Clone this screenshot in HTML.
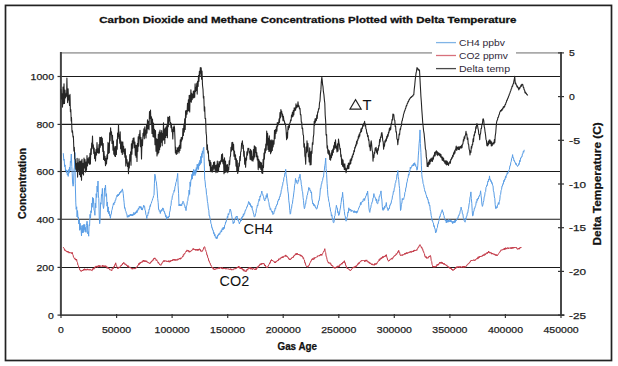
<!DOCTYPE html><html><head><meta charset="utf-8"><style>html,body{margin:0;padding:0;background:#fff;}</style></head><body><svg width="618" height="366" viewBox="0 0 618 366" style="display:block"><rect x="0" y="0" width="618" height="366" fill="#fff"/><rect x="5.5" y="5.4" width="606" height="355.1" fill="none" stroke="#222" stroke-width="1.7"/><text x="99.3" y="23.4" font-family="Liberation Sans, sans-serif" font-weight="bold" font-size="9.5" textLength="417" lengthAdjust="spacingAndGlyphs" fill="#111" stroke="#111" stroke-width="0.3">Carbon Dioxide and Methane Concentrations Plotted with Delta Temperature</text><line x1="61" y1="52.9" x2="561" y2="52.9" stroke="#aaa" stroke-width="1.9"/><line x1="61" y1="267.45" x2="561" y2="267.45" stroke="#1a1a1a" stroke-width="1.1"/><line x1="61" y1="219.20" x2="561" y2="219.20" stroke="#1a1a1a" stroke-width="1.1"/><line x1="61" y1="171.50" x2="561" y2="171.50" stroke="#1a1a1a" stroke-width="1.1"/><line x1="61" y1="124.40" x2="561" y2="124.40" stroke="#1a1a1a" stroke-width="1.1"/><line x1="61" y1="76.50" x2="561" y2="76.50" stroke="#1a1a1a" stroke-width="1.1"/><line x1="60.9" y1="52" x2="60.9" y2="316" stroke="#444" stroke-width="2"/><line x1="561" y1="52" x2="561" y2="316" stroke="#484848" stroke-width="2"/><line x1="59.9" y1="315.1" x2="564.5" y2="315.1" stroke="#4a4a4a" stroke-width="1.9"/><line x1="57.5" y1="315.1" x2="61" y2="315.1" stroke="#333" stroke-width="1.2"/><text x="48.1" y="318.6" font-family="Liberation Sans, sans-serif" font-size="9.8" textLength="5.8" lengthAdjust="spacingAndGlyphs" fill="#222" stroke="#222" stroke-width="0.25">0</text><line x1="57.5" y1="267.4" x2="61" y2="267.4" stroke="#333" stroke-width="1.2"/><text x="36.5" y="270.9" font-family="Liberation Sans, sans-serif" font-size="9.8" textLength="17.5" lengthAdjust="spacingAndGlyphs" fill="#222" stroke="#222" stroke-width="0.25">200</text><line x1="57.5" y1="219.2" x2="61" y2="219.2" stroke="#333" stroke-width="1.2"/><text x="36.5" y="222.7" font-family="Liberation Sans, sans-serif" font-size="9.8" textLength="17.5" lengthAdjust="spacingAndGlyphs" fill="#222" stroke="#222" stroke-width="0.25">400</text><line x1="57.5" y1="171.5" x2="61" y2="171.5" stroke="#333" stroke-width="1.2"/><text x="36.5" y="175.0" font-family="Liberation Sans, sans-serif" font-size="9.8" textLength="17.5" lengthAdjust="spacingAndGlyphs" fill="#222" stroke="#222" stroke-width="0.25">600</text><line x1="57.5" y1="124.4" x2="61" y2="124.4" stroke="#333" stroke-width="1.2"/><text x="36.5" y="127.9" font-family="Liberation Sans, sans-serif" font-size="9.8" textLength="17.5" lengthAdjust="spacingAndGlyphs" fill="#222" stroke="#222" stroke-width="0.25">800</text><line x1="57.5" y1="76.5" x2="61" y2="76.5" stroke="#333" stroke-width="1.2"/><text x="30.6" y="80.0" font-family="Liberation Sans, sans-serif" font-size="9.8" textLength="23.4" lengthAdjust="spacingAndGlyphs" fill="#222" stroke="#222" stroke-width="0.25">1000</text><line x1="558" y1="52.9" x2="564" y2="52.9" stroke="#333" stroke-width="1.2"/><text x="569" y="56.4" font-family="Liberation Sans, sans-serif" font-size="9.8" textLength="5.8" lengthAdjust="spacingAndGlyphs" fill="#222" stroke="#222" stroke-width="0.25">5</text><line x1="558" y1="96.6" x2="564" y2="96.6" stroke="#333" stroke-width="1.2"/><text x="569" y="100.1" font-family="Liberation Sans, sans-serif" font-size="9.8" textLength="5.8" lengthAdjust="spacingAndGlyphs" fill="#222" stroke="#222" stroke-width="0.25">0</text><line x1="558" y1="140.3" x2="564" y2="140.3" stroke="#333" stroke-width="1.2"/><text x="569" y="143.8" font-family="Liberation Sans, sans-serif" font-size="9.8" textLength="11.1" lengthAdjust="spacingAndGlyphs" fill="#222" stroke="#222" stroke-width="0.25">-5</text><line x1="558" y1="184.0" x2="564" y2="184.0" stroke="#333" stroke-width="1.2"/><text x="569" y="187.5" font-family="Liberation Sans, sans-serif" font-size="9.8" textLength="17.0" lengthAdjust="spacingAndGlyphs" fill="#222" stroke="#222" stroke-width="0.25">-10</text><line x1="558" y1="227.7" x2="564" y2="227.7" stroke="#333" stroke-width="1.2"/><text x="569" y="231.2" font-family="Liberation Sans, sans-serif" font-size="9.8" textLength="17.0" lengthAdjust="spacingAndGlyphs" fill="#222" stroke="#222" stroke-width="0.25">-15</text><line x1="558" y1="271.4" x2="564" y2="271.4" stroke="#333" stroke-width="1.2"/><text x="569" y="274.9" font-family="Liberation Sans, sans-serif" font-size="9.8" textLength="17.0" lengthAdjust="spacingAndGlyphs" fill="#222" stroke="#222" stroke-width="0.25">-20</text><line x1="558" y1="315.1" x2="564" y2="315.1" stroke="#333" stroke-width="1.2"/><text x="569" y="318.6" font-family="Liberation Sans, sans-serif" font-size="9.8" textLength="17.0" lengthAdjust="spacingAndGlyphs" fill="#222" stroke="#222" stroke-width="0.25">-25</text><line x1="61.0" y1="314" x2="61.0" y2="318" stroke="#333" stroke-width="1.2"/><text x="58.1" y="333.4" font-family="Liberation Sans, sans-serif" font-size="9.8" textLength="5.8" lengthAdjust="spacingAndGlyphs" fill="#222" stroke="#222" stroke-width="0.25">0</text><line x1="116.6" y1="314" x2="116.6" y2="318" stroke="#333" stroke-width="1.2"/><text x="101.9" y="333.4" font-family="Liberation Sans, sans-serif" font-size="9.8" textLength="29.2" lengthAdjust="spacingAndGlyphs" fill="#222" stroke="#222" stroke-width="0.25">50000</text><line x1="172.1" y1="314" x2="172.1" y2="318" stroke="#333" stroke-width="1.2"/><text x="154.6" y="333.4" font-family="Liberation Sans, sans-serif" font-size="9.8" textLength="35.1" lengthAdjust="spacingAndGlyphs" fill="#222" stroke="#222" stroke-width="0.25">100000</text><line x1="227.7" y1="314" x2="227.7" y2="318" stroke="#333" stroke-width="1.2"/><text x="210.1" y="333.4" font-family="Liberation Sans, sans-serif" font-size="9.8" textLength="35.1" lengthAdjust="spacingAndGlyphs" fill="#222" stroke="#222" stroke-width="0.25">150000</text><line x1="283.2" y1="314" x2="283.2" y2="318" stroke="#333" stroke-width="1.2"/><text x="265.7" y="333.4" font-family="Liberation Sans, sans-serif" font-size="9.8" textLength="35.1" lengthAdjust="spacingAndGlyphs" fill="#222" stroke="#222" stroke-width="0.25">200000</text><line x1="338.8" y1="314" x2="338.8" y2="318" stroke="#333" stroke-width="1.2"/><text x="321.2" y="333.4" font-family="Liberation Sans, sans-serif" font-size="9.8" textLength="35.1" lengthAdjust="spacingAndGlyphs" fill="#222" stroke="#222" stroke-width="0.25">250000</text><line x1="394.3" y1="314" x2="394.3" y2="318" stroke="#333" stroke-width="1.2"/><text x="376.8" y="333.4" font-family="Liberation Sans, sans-serif" font-size="9.8" textLength="35.1" lengthAdjust="spacingAndGlyphs" fill="#222" stroke="#222" stroke-width="0.25">300000</text><line x1="449.9" y1="314" x2="449.9" y2="318" stroke="#333" stroke-width="1.2"/><text x="432.3" y="333.4" font-family="Liberation Sans, sans-serif" font-size="9.8" textLength="35.1" lengthAdjust="spacingAndGlyphs" fill="#222" stroke="#222" stroke-width="0.25">350000</text><line x1="505.4" y1="314" x2="505.4" y2="318" stroke="#333" stroke-width="1.2"/><text x="487.9" y="333.4" font-family="Liberation Sans, sans-serif" font-size="9.8" textLength="35.1" lengthAdjust="spacingAndGlyphs" fill="#222" stroke="#222" stroke-width="0.25">400000</text><line x1="561.0" y1="314" x2="561.0" y2="318" stroke="#333" stroke-width="1.2"/><text x="543.5" y="333.4" font-family="Liberation Sans, sans-serif" font-size="9.8" textLength="35.1" lengthAdjust="spacingAndGlyphs" fill="#222" stroke="#222" stroke-width="0.25">450000</text><text x="277.5" y="350" font-family="Liberation Sans, sans-serif" font-weight="bold" font-size="10.2" textLength="39.5" lengthAdjust="spacingAndGlyphs" fill="#111" stroke="#111" stroke-width="0.25">Gas Age</text><text transform="translate(25.5,219) rotate(-90)" font-family="Liberation Sans, sans-serif" font-weight="bold" font-size="10.2" textLength="71" lengthAdjust="spacingAndGlyphs" fill="#111" stroke="#111" stroke-width="0.25">Concentration</text><text transform="translate(600.6,245.5) rotate(-90)" font-family="Liberation Sans, sans-serif" font-weight="bold" font-size="10.2" textLength="123.3" lengthAdjust="spacingAndGlyphs" fill="#111" stroke="#111" stroke-width="0.25">Delta Temperature (C)</text><path d="M63.3,247.2 L63.8,248.2 L64.2,248.4 L64.6,250.4 L65.1,249.8 L65.5,250.8 L66.0,250.4 L66.4,251.6 L66.9,251.0 L67.3,252.2 L67.7,251.1 L68.2,252.4 L68.6,251.6 L69.1,253.2 L69.5,252.0 L70.0,252.9 L70.4,252.6 L70.8,253.2 L71.3,252.6 L71.8,253.7 L72.2,252.3 L72.7,254.4 L73.1,255.1 L73.5,257.2 L74.0,257.8 L74.4,258.6 L74.9,257.9 L75.3,259.9 L75.7,259.0 L76.2,260.3 L76.6,259.2 L77.0,261.8 L77.5,262.6 L77.9,265.1 L78.4,265.5 L78.8,267.6 L79.3,268.1 L79.7,269.8 L80.2,269.9 L80.6,271.1 L81.0,271.0 L81.5,271.4 L81.9,270.3 L82.3,271.0 L82.8,269.9 L83.2,270.6 L83.7,269.1 L84.1,270.0 L84.6,268.7 L85.0,270.4 L85.5,269.0 L85.9,269.9 L86.4,269.4 L86.8,270.3 L87.3,268.8 L87.8,270.0 L88.2,269.3 L88.7,270.2 L89.1,269.4 L89.5,270.2 L90.0,269.2 L90.4,270.2 L90.8,269.6 L91.3,270.5 L91.7,270.3 L92.2,270.7 L92.6,268.7 L93.0,269.4 L93.5,268.1 L94.0,269.2 L94.4,267.4 L94.8,268.2 L95.3,266.5 L95.8,267.3 L96.2,265.9 L96.7,266.9 L97.1,266.1 L97.5,267.4 L98.0,265.7 L98.5,266.4 L98.9,265.2 L99.3,267.0 L99.8,265.5 L100.2,266.7 L100.6,265.9 L101.1,266.3 L101.5,265.9 L102.0,266.6 L102.4,265.2 L102.8,266.7 L103.3,265.5 L103.7,266.6 L104.1,265.9 L104.6,266.9 L105.0,265.5 L105.5,266.6 L105.9,265.8 L106.3,267.2 L106.8,266.5 L107.2,268.5 L107.7,267.0 L108.2,268.4 L108.6,268.0 L109.0,269.1 L109.5,268.9 L110.0,270.1 L110.4,269.7 L110.8,270.3 L111.3,270.2 L111.8,270.8 L112.2,268.5 L112.7,269.0 L113.1,267.6 L113.5,268.5 L114.0,266.2 L114.4,266.8 L114.8,264.5 L115.3,264.8 L115.7,262.8 L116.2,265.5 L116.6,265.4 L117.0,267.7 L117.5,268.3 L118.0,269.0 L118.4,267.3 L118.8,268.1 L119.3,266.8 L119.8,267.5 L120.2,266.8 L120.6,266.6 L121.1,265.0 L121.5,265.7 L122.0,264.3 L122.4,264.8 L122.8,263.0 L123.3,263.7 L123.7,262.3 L124.2,263.3 L124.6,263.2 L125.0,264.7 L125.5,263.8 L126.0,265.1 L126.4,264.7 L126.8,266.0 L127.3,265.5 L127.7,267.2 L128.2,265.6 L128.6,266.9 L129.1,266.7 L129.5,267.6 L129.9,266.9 L130.4,267.9 L130.8,267.5 L131.3,268.4 L131.7,268.0 L132.2,269.3 L132.6,268.0 L133.1,268.9 L133.5,268.6 L133.9,269.1 L134.4,268.0 L134.9,269.0 L135.3,268.5 L135.7,268.8 L136.2,267.0 L136.6,267.6 L137.1,266.2 L137.5,266.5 L137.9,265.1 L138.4,265.1 L138.8,263.4 L139.2,264.7 L139.7,262.7 L140.2,263.6 L140.6,262.1 L141.1,262.8 L141.5,261.8 L142.0,262.5 L142.4,260.9 L142.9,261.8 L143.3,260.0 L143.7,261.4 L144.2,260.3 L144.6,261.7 L145.1,260.7 L145.5,261.7 L145.9,260.6 L146.4,261.8 L146.8,260.9 L147.2,262.5 L147.7,262.1 L148.2,262.8 L148.6,262.4 L149.1,263.3 L149.5,262.9 L149.9,263.8 L150.4,262.3 L150.8,262.9 L151.3,261.2 L151.7,262.0 L152.2,260.4 L152.6,260.9 L153.0,259.6 L153.5,260.2 L153.9,258.1 L154.4,259.0 L154.8,257.8 L155.3,259.0 L155.8,258.8 L156.2,260.6 L156.7,259.8 L157.2,261.2 L157.7,261.4 L158.1,263.1 L158.6,262.3 L159.0,264.0 L159.4,263.9 L159.9,265.0 L160.3,264.9 L160.8,265.4 L161.2,263.8 L161.7,264.2 L162.1,262.6 L162.6,262.6 L163.0,261.2 L163.5,261.6 L163.9,260.3 L164.3,261.6 L164.8,260.5 L165.2,261.4 L165.7,260.7 L166.1,261.3 L166.6,260.9 L167.0,262.0 L167.4,261.1 L167.9,261.6 L168.3,260.6 L168.8,262.1 L169.2,261.3 L169.6,262.2 L170.1,260.4 L170.6,261.7 L171.0,260.5 L171.4,261.1 L171.9,260.0 L172.4,261.0 L172.8,259.4 L173.2,260.1 L173.7,259.2 L174.1,260.7 L174.6,259.2 L175.0,260.0 L175.4,259.4 L175.9,260.8 L176.3,259.6 L176.7,259.9 L177.2,259.2 L177.6,260.3 L178.1,258.7 L178.5,259.5 L178.9,258.8 L179.4,259.0 L179.8,258.0 L180.3,259.3 L180.7,257.8 L181.2,258.5 L181.6,257.8 L182.0,257.7 L182.5,256.4 L182.9,257.0 L183.4,254.6 L183.8,255.2 L184.3,253.5 L184.8,253.9 L185.2,252.7 L185.6,252.3 L186.1,251.1 L186.6,251.7 L187.0,249.9 L187.4,251.1 L187.9,250.4 L188.3,251.5 L188.7,250.4 L189.2,252.3 L189.6,251.1 L190.0,252.1 L190.5,250.9 L190.9,251.3 L191.4,250.4 L191.8,250.8 L192.3,249.5 L192.8,249.7 L193.2,248.3 L193.6,249.6 L194.1,248.9 L194.5,249.8 L194.9,249.3 L195.4,250.4 L195.8,249.0 L196.3,250.1 L196.7,249.4 L197.1,250.7 L197.6,249.2 L198.1,250.4 L198.5,249.0 L198.9,250.3 L199.4,248.7 L199.8,249.9 L200.3,249.4 L200.7,251.3 L201.1,250.6 L201.6,251.6 L202.0,251.5 L202.5,251.2 L203.0,249.4 L203.4,249.3 L203.9,247.2 L204.4,246.8 L204.8,246.9 L205.2,249.3 L205.7,250.0 L206.1,251.8 L206.5,252.2 L206.9,255.2 L207.4,255.1 L207.8,257.8 L208.3,258.1 L208.8,261.0 L209.2,260.9 L209.6,262.7 L210.1,262.9 L210.5,264.9 L210.9,264.9 L211.4,266.3 L211.8,266.7 L212.2,268.0 L212.7,267.4 L213.2,269.2 L213.6,267.8 L214.1,269.9 L214.5,269.4 L214.9,269.9 L215.4,268.7 L215.8,269.3 L216.3,268.3 L216.8,269.1 L217.2,268.4 L217.7,268.8 L218.1,268.1 L218.6,268.5 L219.0,267.4 L219.4,268.7 L219.9,267.7 L220.3,268.2 L220.8,267.3 L221.2,268.4 L221.6,268.0 L222.1,268.9 L222.5,267.5 L222.9,269.1 L223.4,268.2 L223.8,268.9 L224.2,268.2 L224.7,268.7 L225.1,268.2 L225.6,269.2 L226.0,268.2 L226.4,268.9 L226.9,268.6 L227.3,269.2 L227.8,268.6 L228.2,269.2 L228.7,268.8 L229.2,269.5 L229.6,268.9 L230.0,269.6 L230.5,268.6 L230.9,269.7 L231.4,268.9 L231.8,270.2 L232.3,269.3 L232.8,269.7 L233.2,269.5 L233.6,269.9 L234.1,268.4 L234.5,269.1 L235.0,268.5 L235.4,269.1 L235.8,267.9 L236.3,268.6 L236.7,267.7 L237.2,267.9 L237.6,267.2 L238.1,267.5 L238.5,266.1 L238.9,268.0 L239.4,266.6 L239.8,268.5 L240.2,267.1 L240.7,269.0 L241.1,268.0 L241.6,269.1 L242.0,268.0 L242.4,269.6 L242.9,269.0 L243.3,270.7 L243.8,269.3 L244.2,271.3 L244.7,270.5 L245.2,271.4 L245.6,270.8 L246.0,271.9 L246.5,269.7 L246.9,270.4 L247.3,269.2 L247.8,270.1 L248.2,267.9 L248.7,268.5 L249.1,267.5 L249.6,268.5 L250.0,267.2 L250.5,269.2 L251.0,267.6 L251.4,269.1 L251.9,268.5 L252.3,269.7 L252.8,268.5 L253.3,269.1 L253.7,268.3 L254.2,269.4 L254.7,269.2 L255.1,270.0 L255.6,268.6 L256.0,270.0 L256.5,267.8 L256.9,268.7 L257.4,266.7 L257.8,267.8 L258.2,266.3 L258.7,266.6 L259.1,265.1 L259.6,265.8 L260.0,263.9 L260.4,264.8 L260.9,263.6 L261.3,264.7 L261.8,263.1 L262.2,264.2 L262.6,263.3 L263.1,263.8 L263.5,263.0 L263.9,264.3 L264.4,263.9 L264.9,266.0 L265.3,265.0 L265.8,266.8 L266.2,266.7 L266.7,267.8 L267.1,267.1 L267.5,267.7 L268.0,265.8 L268.4,265.9 L268.9,264.6 L269.3,264.1 L269.7,262.8 L270.2,263.2 L270.6,260.7 L271.1,261.0 L271.5,259.5 L271.9,261.0 L272.4,260.3 L272.9,261.1 L273.3,260.9 L273.8,261.7 L274.2,261.6 L274.7,262.9 L275.1,261.6 L275.5,263.0 L276.0,261.5 L276.4,261.9 L276.9,260.7 L277.3,261.0 L277.8,260.1 L278.2,260.8 L278.6,258.8 L279.1,259.6 L279.5,258.7 L280.0,259.3 L280.4,257.9 L280.8,258.5 L281.3,257.0 L281.7,257.7 L282.2,256.7 L282.6,257.9 L283.0,256.5 L283.5,257.4 L283.9,256.1 L284.4,256.3 L284.8,255.7 L285.3,256.3 L285.7,254.9 L286.1,256.6 L286.6,255.7 L287.1,257.0 L287.5,256.6 L287.9,257.8 L288.4,257.7 L288.8,259.2 L289.3,258.7 L289.8,260.0 L290.2,259.2 L290.6,259.7 L291.1,258.2 L291.5,258.8 L292.0,257.3 L292.4,257.8 L292.9,256.9 L293.3,257.5 L293.7,255.8 L294.2,256.1 L294.6,255.1 L295.1,255.3 L295.5,253.7 L296.0,254.8 L296.4,253.3 L296.8,254.7 L297.3,253.2 L297.7,254.5 L298.2,254.0 L298.6,255.0 L299.0,254.4 L299.5,255.2 L299.9,254.5 L300.4,256.1 L300.8,254.9 L301.2,256.2 L301.7,255.5 L302.1,257.0 L302.6,256.4 L303.1,258.4 L303.5,257.7 L303.9,259.6 L304.4,260.0 L304.9,263.1 L305.3,262.8 L305.8,265.4 L306.2,265.8 L306.6,266.6 L307.1,265.9 L307.6,267.2 L308.0,266.8 L308.4,266.6 L308.9,265.0 L309.3,265.1 L309.8,263.2 L310.2,262.7 L310.6,261.4 L311.1,261.4 L311.5,259.6 L311.9,259.9 L312.4,258.5 L312.9,259.9 L313.3,258.5 L313.8,259.5 L314.2,257.4 L314.6,258.7 L315.1,257.6 L315.6,257.6 L316.0,257.0 L316.4,257.3 L316.9,256.5 L317.3,256.9 L317.8,255.7 L318.2,256.2 L318.6,255.7 L319.1,256.2 L319.5,255.0 L319.9,256.0 L320.4,254.2 L320.9,255.1 L321.3,254.0 L321.8,255.5 L322.2,253.9 L322.6,253.8 L323.1,252.6 L323.5,252.1 L323.9,250.8 L324.4,250.5 L324.8,248.7 L325.2,252.1 L325.7,252.6 L326.1,256.1 L326.6,257.2 L327.1,259.7 L327.5,261.4 L327.9,262.4 L328.4,262.0 L328.8,263.3 L329.2,262.7 L329.7,263.4 L330.1,262.7 L330.6,264.3 L331.0,263.8 L331.4,265.7 L331.9,265.0 L332.4,265.8 L332.8,265.7 L333.2,267.5 L333.7,266.9 L334.2,268.1 L334.6,267.1 L335.0,268.6 L335.5,267.0 L335.9,267.5 L336.4,266.8 L336.8,267.3 L337.2,266.1 L337.7,267.4 L338.1,265.7 L338.6,266.9 L339.0,265.9 L339.4,266.7 L339.9,264.5 L340.4,265.2 L340.8,264.1 L341.2,264.4 L341.7,263.1 L342.1,264.2 L342.6,262.4 L343.0,263.0 L343.5,261.7 L343.9,262.5 L344.4,260.7 L344.8,263.1 L345.3,262.8 L345.7,265.6 L346.1,265.5 L346.6,267.7 L347.0,267.3 L347.4,268.9 L347.9,268.3 L348.4,269.0 L348.8,269.0 L349.2,269.9 L349.7,269.7 L350.2,270.9 L350.6,270.4 L351.1,270.2 L351.6,269.0 L352.1,268.8 L352.6,267.8 L353.0,267.9 L353.5,266.9 L353.9,268.1 L354.4,266.8 L354.8,267.3 L355.2,266.0 L355.7,267.3 L356.1,265.7 L356.5,266.4 L357.0,264.8 L357.4,265.1 L357.9,263.6 L358.3,264.3 L358.8,262.6 L359.2,263.6 L359.6,262.2 L360.1,262.3 L360.5,261.3 L361.0,261.6 L361.4,260.4 L361.8,261.1 L362.3,260.4 L362.8,261.0 L363.2,260.5 L363.6,261.0 L364.1,260.4 L364.6,261.7 L365.0,260.2 L365.4,261.4 L365.9,259.9 L366.4,261.1 L366.8,259.9 L367.2,261.5 L367.7,261.0 L368.1,262.3 L368.6,261.7 L369.0,263.1 L369.5,262.3 L369.9,263.7 L370.3,262.8 L370.8,263.9 L371.2,263.7 L371.7,264.8 L372.1,263.7 L372.6,265.1 L373.0,264.6 L373.4,265.2 L373.9,264.4 L374.3,265.3 L374.8,263.4 L375.2,264.7 L375.6,263.6 L376.1,264.5 L376.5,263.0 L376.9,263.6 L377.4,262.1 L377.9,262.0 L378.3,261.1 L378.8,260.9 L379.2,259.3 L379.6,260.6 L380.1,258.5 L380.6,259.4 L381.0,257.8 L381.4,258.8 L381.9,257.3 L382.3,258.2 L382.8,256.3 L383.2,257.8 L383.6,256.5 L384.1,256.9 L384.5,256.0 L385.0,257.0 L385.4,255.0 L385.9,255.9 L386.3,254.6 L386.8,257.1 L387.2,258.0 L387.7,260.0 L388.1,260.4 L388.5,261.3 L389.0,260.1 L389.4,260.8 L389.9,259.5 L390.3,259.7 L390.7,258.9 L391.2,259.2 L391.6,258.3 L392.1,259.3 L392.5,257.8 L392.9,258.2 L393.4,256.8 L393.9,257.0 L394.3,255.6 L394.8,256.0 L395.2,255.2 L395.6,255.5 L396.1,253.8 L396.6,254.5 L397.0,253.0 L397.4,253.1 L397.9,251.6 L398.3,252.3 L398.7,250.3 L399.1,252.3 L399.6,252.3 L400.1,255.2 L400.5,255.0 L400.9,255.8 L401.4,254.8 L401.8,255.3 L402.3,254.6 L402.7,255.6 L403.1,254.3 L403.6,254.6 L404.0,254.1 L404.5,254.4 L404.9,253.0 L405.4,254.3 L405.8,252.9 L406.2,253.8 L406.7,252.4 L407.1,253.8 L407.6,252.6 L408.1,253.2 L408.5,252.5 L408.9,253.0 L409.4,251.8 L409.9,252.6 L410.3,251.3 L410.8,252.3 L411.2,251.5 L411.6,252.4 L412.1,250.9 L412.5,251.8 L413.0,251.0 L413.4,251.9 L413.9,250.1 L414.3,251.2 L414.7,249.9 L415.2,250.8 L415.6,250.0 L416.1,250.6 L416.5,249.7 L416.9,250.3 L417.4,248.5 L417.8,248.6 L418.2,247.1 L418.7,247.4 L419.1,245.6 L419.6,245.9 L420.0,244.6 L420.4,245.7 L420.9,246.0 L421.4,247.8 L421.8,247.1 L422.2,249.2 L422.7,248.8 L423.1,251.4 L423.6,251.3 L424.0,253.4 L424.5,253.8 L424.9,256.7 L425.4,256.3 L425.8,257.6 L426.3,256.6 L426.7,258.4 L427.1,257.3 L427.6,258.3 L428.0,257.9 L428.5,257.9 L429.0,256.1 L429.4,256.9 L429.9,255.7 L430.4,255.5 L430.8,257.0 L431.2,260.5 L431.7,261.6 L432.1,264.5 L432.5,265.5 L432.9,267.1 L433.4,266.1 L433.8,267.4 L434.2,266.1 L434.7,267.2 L435.1,266.6 L435.6,267.0 L436.0,265.9 L436.5,266.5 L436.9,264.6 L437.4,265.4 L437.8,264.1 L438.2,265.2 L438.7,263.8 L439.1,264.2 L439.6,262.3 L440.1,263.1 L440.5,262.0 L440.9,263.5 L441.4,261.9 L441.8,263.4 L442.3,262.3 L442.7,263.9 L443.1,263.3 L443.6,264.4 L444.0,263.0 L444.5,264.5 L444.9,264.0 L445.4,264.9 L445.8,264.6 L446.3,265.8 L446.8,264.9 L447.3,266.5 L447.8,266.0 L448.2,267.2 L448.7,266.7 L449.1,268.0 L449.6,267.3 L450.0,268.8 L450.5,267.8 L450.9,269.0 L451.3,268.3 L451.8,270.0 L452.2,269.0 L452.7,270.5 L453.1,270.0 L453.5,270.3 L454.0,269.1 L454.4,269.8 L454.9,268.3 L455.3,269.0 L455.7,267.5 L456.2,268.2 L456.6,266.7 L457.1,268.0 L457.5,266.6 L457.9,267.4 L458.4,266.5 L458.8,267.4 L459.3,266.5 L459.7,267.9 L460.2,266.2 L460.6,267.3 L461.1,266.8 L461.5,267.5 L461.9,266.8 L462.4,267.3 L462.8,266.1 L463.3,267.7 L463.7,266.1 L464.2,267.4 L464.6,266.1 L465.1,267.4 L465.5,266.7 L465.9,266.9 L466.4,265.5 L466.9,265.7 L467.3,264.4 L467.8,264.5 L468.2,263.5 L468.6,263.9 L469.1,262.7 L469.5,262.9 L470.0,261.5 L470.4,261.8 L470.9,260.4 L471.3,260.9 L471.8,260.0 L472.2,260.7 L472.7,260.0 L473.1,260.5 L473.5,259.7 L474.0,260.5 L474.4,259.8 L474.9,260.8 L475.3,259.5 L475.8,259.9 L476.2,258.8 L476.6,259.0 L477.1,258.2 L477.6,259.1 L478.0,256.9 L478.4,258.4 L478.9,256.6 L479.3,257.7 L479.8,256.1 L480.2,257.0 L480.7,256.1 L481.1,256.7 L481.5,255.9 L482.0,256.6 L482.4,255.2 L482.9,256.0 L483.3,254.6 L483.7,255.5 L484.2,254.5 L484.6,255.4 L485.1,253.5 L485.5,254.7 L486.0,253.5 L486.4,253.7 L486.8,252.6 L487.3,253.7 L487.7,252.1 L488.2,252.8 L488.6,251.0 L489.1,252.7 L489.5,251.9 L489.9,253.2 L490.4,252.4 L490.9,253.3 L491.3,252.6 L491.8,254.2 L492.2,253.0 L492.6,254.1 L493.1,253.6 L493.5,254.4 L494.0,253.7 L494.4,254.8 L494.9,254.0 L495.3,255.4 L495.7,254.5 L496.2,255.8 L496.6,254.6 L497.1,255.9 L497.5,255.1 L497.9,254.9 L498.4,253.8 L498.8,253.5 L499.2,252.6 L499.7,252.5 L500.1,251.2 L500.6,251.3 L501.0,249.9 L501.4,250.3 L501.9,249.6 L502.4,250.2 L502.8,249.3 L503.2,249.7 L503.7,248.7 L504.1,249.9 L504.6,248.0 L505.0,249.6 L505.5,247.7 L505.9,249.1 L506.4,248.1 L506.8,249.1 L507.3,247.6 L507.7,248.4 L508.2,247.6 L508.6,248.8 L509.1,247.9 L509.5,248.2 L510.0,247.7 L510.4,248.5 L510.8,247.5 L511.3,248.8 L511.7,247.4 L512.2,248.5 L512.6,247.2 L513.1,248.4 L513.5,247.2 L514.0,248.1 L514.4,247.2 L514.9,248.0 L515.3,247.2 L515.8,247.7 L516.2,247.1 L516.7,248.4 L517.1,248.1 L517.5,249.4 L518.0,248.9 L518.4,249.1 L518.9,248.0 L519.3,249.2 L519.8,247.6 L520.2,248.2 L520.6,247.1 L521.1,247.6 L521.5,247.1" fill="none" stroke="#c43a48" stroke-width="1.0" stroke-linejoin="round"/><path d="M63.3,153.2 L63.8,160.3 L64.2,159.3 L64.6,166.6 L65.1,164.9 L65.5,171.0 L66.0,169.8 L66.4,172.7 L66.9,170.1 L67.3,174.9 L67.8,173.5 L68.2,176.4 L68.7,169.5 L69.1,173.2 L69.5,167.0 L70.0,170.8 L70.4,161.2 L70.8,162.6 L71.3,154.0 L71.8,166.6 L72.2,173.2 L72.6,183.0 L73.1,186.2 L73.5,184.2 L74.0,169.8 L74.5,167.1 L74.9,152.5 L75.3,183.9 L75.8,202.9 L76.2,209.3 L76.7,206.8 L77.1,217.0 L77.5,210.6 L78.0,217.9 L78.4,217.0 L78.8,223.9 L79.3,220.1 L79.7,230.3 L80.1,223.2 L80.6,229.4 L81.0,228.2 L81.5,235.9 L81.9,225.6 L82.4,232.8 L82.9,225.2 L83.3,232.6 L83.8,224.4 L84.2,229.8 L84.7,224.5 L85.1,231.7 L85.5,227.5 L86.0,232.4 L86.4,225.6 L87.0,221.2 L87.4,223.3 L87.8,233.9 L88.2,231.6 L88.7,236.2 L89.1,224.8 L89.6,225.6 L90.0,214.4 L90.5,218.1 L90.9,210.8 L91.3,212.6 L91.8,203.2 L92.2,207.3 L92.6,197.4 L93.1,203.4 L93.5,198.4 L94.0,210.1 L94.5,210.9 L94.9,215.3 L95.3,203.2 L95.8,207.8 L96.2,193.7 L96.7,197.5 L97.1,186.0 L97.5,192.0 L98.0,181.0 L98.4,196.0 L98.8,198.6 L99.3,218.3 L99.7,223.7 L100.1,220.3 L100.6,202.7 L101.0,204.2 L101.5,194.4 L101.9,195.9 L102.4,188.4 L103.0,205.0 L103.5,208.5 L104.0,205.4 L104.5,188.3 L105.0,190.1 L105.5,185.0 L106.0,196.4 L106.5,193.7 L107.0,206.2 L107.4,202.0 L107.8,212.1 L108.3,206.9 L108.7,213.7 L109.1,211.2 L109.6,215.8 L110.0,214.4 L110.4,218.4 L110.8,214.9 L111.3,214.2 L111.7,210.6 L112.1,209.7 L112.6,206.9 L113.0,205.6 L113.5,203.0 L113.9,204.8 L114.3,202.1 L114.8,202.9 L115.2,200.2 L115.7,200.3 L116.1,197.8 L116.6,197.1 L117.0,195.2 L117.5,196.5 L118.0,194.1 L118.4,196.0 L118.8,193.9 L119.3,194.6 L119.7,192.4 L120.2,193.2 L120.6,191.4 L121.0,192.4 L121.5,190.6 L121.9,191.1 L122.4,188.9 L122.8,191.0 L123.2,193.3 L123.7,198.8 L124.1,202.3 L124.6,208.3 L125.0,207.7 L125.5,210.8 L125.9,211.4 L126.4,213.6 L126.8,213.7 L127.3,217.3 L127.7,215.8 L128.2,217.2 L128.6,215.3 L129.1,216.8 L129.5,214.9 L129.9,215.6 L130.4,214.0 L130.8,215.9 L131.3,214.3 L131.7,215.9 L132.2,214.3 L132.6,215.9 L133.0,213.9 L133.5,215.2 L133.9,212.3 L134.4,214.7 L134.8,213.2 L135.3,214.1 L135.8,211.8 L136.2,213.1 L136.6,210.7 L137.1,212.5 L137.5,209.8 L137.9,210.4 L138.4,208.1 L138.8,209.4 L139.3,206.5 L139.7,207.7 L140.1,206.3 L140.6,208.2 L141.1,206.7 L141.5,209.9 L141.9,207.8 L142.4,210.1 L142.8,207.9 L143.2,207.7 L143.7,205.2 L144.1,206.6 L144.6,206.3 L145.0,210.3 L145.4,210.5 L145.9,214.6 L146.4,215.6 L146.8,218.6 L147.2,215.4 L147.7,216.0 L148.2,212.5 L148.6,213.3 L149.1,209.0 L149.5,209.4 L150.0,205.7 L150.4,206.4 L150.8,203.8 L151.3,203.4 L151.8,201.3 L152.2,200.6 L152.7,198.6 L153.1,198.0 L153.6,195.7 L154.0,195.3 L154.4,183.8 L154.8,174.2 L155.3,175.4 L155.8,180.4 L156.3,181.7 L156.8,186.8 L157.2,190.9 L157.7,198.6 L158.2,202.6 L158.6,209.5 L159.0,209.3 L159.4,211.3 L159.9,210.8 L160.3,213.5 L160.8,210.6 L161.2,211.4 L161.7,209.5 L162.1,210.7 L162.6,208.0 L163.0,208.0 L163.4,208.3 L163.9,211.5 L164.3,211.1 L164.8,213.8 L165.2,213.5 L165.6,216.8 L166.1,215.4 L166.5,219.3 L166.9,216.9 L167.4,218.1 L167.8,216.8 L168.3,218.2 L168.8,216.3 L169.2,217.0 L169.6,212.1 L170.1,210.8 L170.6,206.1 L171.0,205.4 L171.4,200.5 L171.9,200.0 L172.4,195.7 L172.8,195.5 L173.2,193.4 L173.7,192.8 L174.1,190.4 L174.5,191.2 L175.0,186.7 L175.4,186.0 L175.9,182.5 L176.3,181.8 L176.8,178.6 L177.2,177.4 L177.7,173.4 L178.1,185.7 L178.6,193.7 L179.0,205.9 L179.4,204.1 L179.9,205.9 L180.4,204.5 L180.8,206.0 L181.2,204.4 L181.7,205.7 L182.1,203.3 L182.5,203.8 L183.0,201.2 L183.4,202.2 L183.8,202.8 L184.3,205.2 L184.7,205.1 L185.1,207.9 L185.6,207.3 L186.0,210.6 L186.4,205.9 L186.9,205.6 L187.3,201.7 L187.8,200.7 L188.2,196.4 L188.7,196.2 L189.1,190.0 L189.6,194.4 L190.1,181.9 L190.5,186.4 L190.9,179.6 L191.4,179.9 L191.8,174.4 L192.3,179.1 L192.8,171.9 L193.2,175.7 L193.7,169.3 L194.1,173.7 L194.6,170.6 L195.0,175.5 L195.5,169.7 L195.9,173.3 L196.3,167.6 L196.8,170.5 L197.2,164.3 L197.7,168.5 L198.1,164.1 L198.5,169.5 L199.0,162.7 L199.4,165.8 L199.9,160.3 L200.3,164.5 L200.7,156.4 L201.2,163.2 L201.6,153.6 L202.0,157.6 L202.4,150.9 L202.9,153.7 L203.4,148.1 L203.8,147.3 L204.2,161.1 L204.7,179.3 L205.1,181.2 L205.6,187.5 L206.1,188.8 L206.5,194.7 L206.9,195.8 L207.4,201.3 L207.8,203.3 L208.3,208.1 L208.8,210.3 L209.2,216.0 L209.6,215.7 L210.1,219.3 L210.5,219.9 L210.9,223.4 L211.4,224.2 L211.8,227.8 L212.2,227.5 L212.7,230.2 L213.2,230.1 L213.6,233.6 L214.1,232.6 L214.5,235.9 L214.9,234.3 L215.4,237.4 L215.9,236.8 L216.3,238.8 L216.7,236.9 L217.2,238.5 L217.6,235.3 L218.1,236.1 L218.5,233.8 L218.9,235.0 L219.4,233.4 L219.8,234.3 L220.2,231.9 L220.7,232.4 L221.2,230.4 L221.6,232.0 L222.1,228.7 L222.5,229.9 L223.0,227.5 L223.4,229.5 L223.9,227.0 L224.3,228.5 L224.7,225.0 L225.2,224.7 L225.6,222.0 L226.1,222.3 L226.5,219.7 L226.9,219.5 L227.4,216.3 L227.8,217.6 L228.2,213.7 L228.7,214.9 L229.2,212.5 L229.6,212.2 L230.1,209.0 L230.5,209.9 L230.9,211.1 L231.4,214.2 L231.8,216.1 L232.3,219.5 L232.8,220.6 L233.2,223.7 L233.6,222.0 L234.1,222.8 L234.5,220.4 L234.9,220.2 L235.4,217.5 L235.8,218.8 L236.3,216.0 L236.7,216.9 L237.1,216.0 L237.6,220.2 L238.1,219.0 L238.5,221.3 L238.9,222.0 L239.4,223.9 L239.8,222.2 L240.3,222.0 L240.7,219.3 L241.2,221.0 L241.6,217.5 L242.0,218.3 L242.5,216.0 L242.9,216.9 L243.4,213.9 L243.8,215.4 L244.2,213.2 L244.7,213.6 L245.1,210.5 L245.5,210.8 L246.0,209.0 L246.4,208.6 L246.8,206.7 L247.3,206.8 L247.7,204.7 L248.1,204.5 L248.6,201.5 L249.0,202.5 L249.4,202.5 L249.9,205.0 L250.3,203.6 L250.7,206.4 L251.1,205.5 L251.6,207.5 L252.0,206.2 L252.4,210.2 L252.9,210.3 L253.3,213.0 L253.8,214.1 L254.2,216.9 L254.7,216.8 L255.1,216.3 L255.6,213.5 L256.0,212.8 L256.4,208.8 L256.9,208.2 L257.3,205.1 L257.8,205.9 L258.2,202.5 L258.6,202.2 L259.1,199.1 L259.6,200.5 L260.0,196.1 L260.4,197.1 L260.9,194.7 L261.4,193.5 L261.8,191.0 L262.2,193.7 L262.7,193.9 L263.1,196.1 L263.5,196.3 L264.0,199.3 L264.4,200.2 L264.8,201.0 L265.3,198.0 L265.8,198.6 L266.2,195.4 L266.7,197.4 L267.1,193.5 L267.6,197.4 L268.0,198.7 L268.5,201.4 L268.9,202.6 L269.4,206.7 L269.8,206.5 L270.2,209.6 L270.7,208.5 L271.1,210.6 L271.6,210.7 L272.0,212.3 L272.4,211.2 L272.9,214.5 L273.3,213.6 L273.8,213.9 L274.2,210.8 L274.7,211.2 L275.1,208.3 L275.6,209.1 L276.0,206.0 L276.4,206.1 L276.9,204.2 L277.4,204.4 L277.8,201.0 L278.2,201.1 L278.7,199.0 L279.1,199.7 L279.5,196.8 L280.0,197.0 L280.4,194.0 L280.8,194.2 L281.3,189.8 L281.7,189.5 L282.2,185.8 L282.6,185.7 L283.0,182.0 L283.5,181.4 L283.9,177.6 L284.4,176.9 L284.8,173.1 L285.3,173.4 L285.7,169.3 L286.1,174.9 L286.6,178.2 L287.0,183.0 L287.5,186.5 L287.9,191.1 L288.4,193.9 L288.8,200.7 L289.3,204.0 L289.8,210.6 L290.2,214.2 L290.6,213.5 L291.1,208.9 L291.5,208.6 L292.0,204.4 L292.4,203.8 L292.9,199.4 L293.3,197.2 L293.8,192.9 L294.2,190.3 L294.6,185.2 L295.1,183.4 L295.5,178.4 L295.9,181.1 L296.4,180.4 L296.9,183.3 L297.3,183.6 L297.8,183.5 L298.2,180.1 L298.6,181.3 L299.1,176.9 L299.6,177.8 L300.0,174.2 L300.4,179.0 L300.9,180.0 L301.3,184.7 L301.7,186.1 L302.2,191.1 L302.6,191.8 L303.1,197.6 L303.5,200.6 L303.9,205.7 L304.4,208.7 L304.8,207.6 L305.3,203.9 L305.7,204.0 L306.1,199.8 L306.6,199.2 L307.0,195.6 L307.4,195.0 L307.9,192.1 L308.4,190.5 L308.8,187.4 L309.2,189.3 L309.7,188.3 L310.1,191.0 L310.6,190.4 L311.1,193.0 L311.5,191.9 L311.9,198.8 L312.4,201.0 L312.8,204.1 L313.3,203.1 L313.7,205.6 L314.2,204.3 L314.6,206.2 L315.0,205.5 L315.5,207.8 L315.9,207.3 L316.4,209.2 L316.8,208.9 L317.2,208.3 L317.7,205.1 L318.1,204.9 L318.6,200.9 L319.1,200.9 L319.5,197.9 L319.9,195.2 L320.4,188.2 L320.8,188.6 L321.3,184.2 L321.7,184.1 L322.1,181.0 L322.6,180.6 L323.0,177.3 L323.5,177.2 L323.9,172.6 L324.3,170.5 L324.8,165.5 L325.2,163.8 L325.7,158.1 L326.1,168.4 L326.6,174.3 L327.1,183.5 L327.5,189.4 L327.9,195.5 L328.4,198.2 L328.8,201.4 L329.3,202.5 L329.7,206.9 L330.1,207.6 L330.6,211.4 L331.0,211.7 L331.4,216.1 L331.9,214.8 L332.4,219.5 L332.8,218.6 L333.2,222.4 L333.7,222.8 L334.1,221.8 L334.6,216.0 L335.0,215.6 L335.5,210.3 L335.9,209.3 L336.4,205.3 L336.8,207.7 L337.3,207.9 L337.7,212.6 L338.1,211.6 L338.6,215.3 L339.0,215.4 L339.4,214.5 L339.9,210.2 L340.4,208.1 L340.8,204.5 L341.2,202.4 L341.7,197.6 L342.2,197.6 L342.6,192.3 L343.1,198.7 L343.5,202.2 L343.9,208.3 L344.4,211.5 L344.8,215.4 L345.2,215.8 L345.7,220.5 L346.1,221.2 L346.6,220.4 L347.0,216.9 L347.5,216.5 L347.9,211.9 L348.4,212.7 L348.8,207.8 L349.3,210.4 L349.8,209.1 L350.2,210.3 L350.7,209.2 L351.2,211.6 L351.7,210.2 L352.1,211.0 L352.6,210.7 L353.0,211.5 L353.5,211.1 L353.9,212.8 L354.4,210.7 L354.8,212.4 L355.2,211.5 L355.7,212.6 L356.1,211.0 L356.6,213.2 L357.0,211.7 L357.4,212.3 L357.9,210.3 L358.3,209.7 L358.8,207.7 L359.2,207.6 L359.6,205.9 L360.1,205.6 L360.5,202.5 L360.9,204.8 L361.4,202.3 L361.9,202.5 L362.3,201.2 L362.8,202.0 L363.2,199.6 L363.6,200.2 L364.1,198.4 L364.6,200.5 L365.0,197.9 L365.4,197.8 L365.9,195.8 L366.3,195.6 L366.7,193.5 L367.2,194.2 L367.6,191.0 L368.1,197.1 L368.5,201.7 L368.9,207.9 L369.4,211.3 L369.8,212.4 L370.3,208.9 L370.8,207.9 L371.2,204.7 L371.6,204.3 L372.1,201.7 L372.5,201.7 L373.0,197.9 L373.4,197.7 L373.9,193.6 L374.3,196.3 L374.8,196.5 L375.2,198.1 L375.6,198.0 L376.1,200.8 L376.5,199.0 L376.9,203.2 L377.4,203.6 L377.8,203.7 L378.3,199.8 L378.8,200.7 L379.2,196.3 L379.6,196.7 L380.1,194.4 L380.6,193.4 L381.0,190.9 L381.4,197.0 L381.9,199.9 L382.3,206.4 L382.7,209.9 L383.1,210.4 L383.6,207.8 L384.1,209.3 L384.5,206.3 L384.9,207.8 L385.4,205.3 L385.9,205.5 L386.3,202.5 L386.7,206.6 L387.1,207.0 L387.6,209.6 L388.0,210.6 L388.4,210.1 L388.9,208.1 L389.4,208.7 L389.8,205.1 L390.2,205.4 L390.7,203.4 L391.1,203.6 L391.6,200.2 L392.1,199.2 L392.5,195.6 L392.9,195.4 L393.4,191.3 L393.9,191.8 L394.3,188.1 L394.8,187.2 L395.2,183.5 L395.6,182.9 L396.1,180.0 L396.5,179.6 L396.9,174.6 L397.4,175.1 L397.8,170.5 L398.2,176.8 L398.7,179.5 L399.2,185.7 L399.6,188.6 L400.1,200.8 L400.5,210.5 L400.9,209.5 L401.4,204.3 L401.9,203.0 L402.3,198.5 L402.7,199.9 L403.1,198.8 L403.6,199.4 L404.0,197.6 L404.4,196.7 L404.9,192.4 L405.4,191.8 L405.8,187.7 L406.2,187.6 L406.7,183.0 L407.2,181.8 L407.6,178.6 L408.1,177.8 L408.5,174.1 L409.0,175.2 L409.4,170.6 L409.9,171.1 L410.3,167.2 L410.7,168.7 L411.2,167.0 L411.6,167.2 L412.1,165.3 L412.5,166.1 L412.9,164.5 L413.4,166.0 L413.8,163.2 L414.3,164.7 L414.7,162.7 L415.1,165.6 L415.6,164.5 L416.0,167.0 L416.5,167.1 L416.9,170.2 L417.4,169.4 L417.8,165.2 L418.3,155.9 L418.7,150.8 L419.1,143.8 L419.6,138.9 L420.0,129.9 L420.4,143.3 L420.9,152.4 L421.4,165.2 L421.8,174.6 L422.2,178.1 L422.7,179.8 L423.1,183.6 L423.6,184.7 L424.1,187.6 L424.5,189.3 L424.9,191.7 L425.4,191.6 L425.9,194.4 L426.3,194.9 L426.8,197.5 L427.2,197.0 L427.6,199.6 L428.1,199.3 L428.5,203.3 L428.9,202.2 L429.4,205.6 L429.8,205.1 L430.2,209.9 L430.7,211.5 L431.2,215.6 L431.6,217.3 L432.1,220.8 L432.5,220.4 L432.9,222.6 L433.4,222.9 L433.8,226.5 L434.3,225.7 L434.7,228.6 L435.1,228.6 L435.6,232.9 L436.0,232.0 L436.4,231.8 L436.9,228.3 L437.4,227.6 L437.8,224.1 L438.2,224.0 L438.7,221.2 L439.1,220.3 L439.6,216.5 L440.1,216.9 L440.5,214.1 L440.9,213.7 L441.4,211.7 L441.8,211.8 L442.2,209.7 L442.6,211.9 L443.1,211.8 L443.6,215.0 L444.0,215.3 L444.4,218.2 L444.9,218.4 L445.4,221.0 L445.8,220.3 L446.3,222.9 L446.8,220.0 L447.2,222.3 L447.7,220.4 L448.2,222.2 L448.7,219.5 L449.1,221.7 L449.6,220.5 L450.0,221.8 L450.5,219.9 L450.9,221.9 L451.4,220.6 L451.8,222.3 L452.2,221.4 L452.7,223.7 L453.1,221.2 L453.6,222.7 L454.0,221.3 L454.4,222.8 L454.9,220.2 L455.4,222.3 L455.8,220.0 L456.2,220.8 L456.7,219.4 L457.1,219.4 L457.6,217.8 L458.0,218.3 L458.4,215.7 L458.9,216.0 L459.3,213.9 L459.8,213.9 L460.2,210.6 L460.7,210.4 L461.1,207.1 L461.6,209.8 L462.0,210.1 L462.4,213.8 L462.9,213.8 L463.3,217.9 L463.8,218.2 L464.2,220.8 L464.6,221.4 L465.1,222.2 L465.5,218.1 L465.9,219.6 L466.4,216.3 L466.9,216.3 L467.3,212.8 L467.8,212.9 L468.2,209.7 L468.6,208.2 L469.1,204.0 L469.5,202.5 L470.0,197.2 L470.4,196.2 L470.9,191.9 L471.3,198.6 L471.8,203.4 L472.2,210.6 L472.6,215.9 L473.1,215.6 L473.5,211.4 L473.9,211.5 L474.4,208.0 L474.8,208.4 L475.3,206.0 L475.8,205.3 L476.2,201.8 L476.7,202.4 L477.1,199.1 L477.5,200.4 L478.0,198.0 L478.4,198.9 L478.8,196.3 L479.3,196.4 L479.7,194.8 L480.1,194.5 L480.6,190.8 L481.1,195.9 L481.5,199.0 L481.9,204.1 L482.4,206.4 L482.8,205.2 L483.3,202.3 L483.8,200.7 L484.2,196.6 L484.6,196.6 L485.1,192.3 L485.6,191.7 L486.0,187.4 L486.4,187.0 L486.9,184.9 L487.3,185.4 L487.8,181.4 L488.2,182.0 L488.6,179.0 L489.1,180.1 L489.5,175.9 L489.9,179.6 L490.4,179.3 L490.8,181.5 L491.2,180.7 L491.7,183.4 L492.1,182.6 L492.6,185.4 L493.0,185.6 L493.4,190.8 L493.9,192.1 L494.4,197.0 L494.8,198.4 L495.2,204.5 L495.7,208.6 L496.1,208.7 L496.6,206.7 L497.1,207.8 L497.5,205.0 L497.9,205.0 L498.4,202.6 L498.9,204.4 L499.3,201.7 L499.8,199.9 L500.2,195.3 L500.6,194.5 L501.1,190.5 L501.6,189.3 L502.0,185.9 L502.4,186.1 L502.9,183.7 L503.3,184.2 L503.8,180.4 L504.2,181.6 L504.6,178.9 L505.1,179.5 L505.5,176.3 L505.9,177.8 L506.4,174.9 L506.8,175.2 L507.2,172.7 L507.7,173.9 L508.1,171.7 L508.6,172.1 L509.0,169.7 L509.4,169.4 L509.9,165.7 L510.4,165.7 L510.8,162.3 L511.2,161.6 L511.7,158.2 L512.1,158.0 L512.6,154.6 L513.0,158.0 L513.5,157.8 L514.0,161.0 L514.4,160.6 L514.8,162.3 L515.3,162.3 L515.7,164.4 L516.1,163.3 L516.6,165.1 L517.0,165.0 L517.5,166.5 L517.9,166.2 L518.4,165.6 L518.8,163.6 L519.2,164.4 L519.7,160.4 L520.1,161.7 L520.6,158.0 L521.0,158.4 L521.5,156.7 L522.0,156.9 L522.4,153.9 L522.9,153.9 L523.3,151.3 L523.8,152.2 L524.2,149.8" fill="none" stroke="#5a9ee6" stroke-width="1.0" stroke-linejoin="round"/><path d="M61.0,89.3 L61.5,99.0 L62.0,93.7 L62.5,107.1 L63.0,87.0 L63.5,103.7 L64.0,83.7 L64.5,103.5 L65.0,90.0 L65.5,98.0 L66.0,93.8 L66.6,96.3 L66.9,78.0 L67.2,91.8 L67.6,102.6 L68.1,88.7 L68.5,99.9 L69.0,95.6 L69.5,105.4 L70.0,94.4 L70.4,111.8 L70.8,109.5 L71.2,120.9 L71.5,117.4 L72.0,132.1 L72.5,130.8 L73.0,136.9 L73.4,136.3 L73.9,151.0 L74.3,147.2 L74.8,158.9 L75.3,159.4 L75.8,169.1 L76.2,163.6 L76.7,171.4 L77.1,158.3 L77.6,177.1 L78.0,162.7 L78.5,170.2 L79.0,158.7 L79.5,174.6 L80.0,161.6 L80.5,176.8 L81.0,160.8 L81.5,180.2 L82.0,159.3 L82.5,173.7 L83.0,163.2 L83.5,175.0 L84.0,158.0 L84.5,167.9 L85.0,159.6 L85.5,171.9 L86.0,162.0 L86.5,170.3 L87.0,155.5 L87.5,165.9 L88.0,158.8 L88.5,162.9 L89.0,157.3 L89.5,164.3 L90.0,153.3 L90.4,164.0 L90.8,148.9 L91.2,154.5 L91.7,143.0 L92.1,147.0 L92.5,136.1 L92.9,148.7 L93.3,144.9 L93.8,153.5 L94.2,148.0 L94.6,158.4 L95.0,152.3 L95.5,161.0 L96.0,149.5 L96.5,155.1 L97.0,142.6 L97.5,152.7 L98.0,148.7 L98.5,153.3 L99.0,144.6 L99.4,153.0 L99.8,137.4 L100.2,147.3 L100.7,137.6 L101.1,145.0 L101.5,137.0 L101.9,145.3 L102.3,138.4 L102.8,151.4 L103.2,143.6 L103.6,159.5 L104.0,151.4 L104.5,160.4 L105.0,156.4 L105.5,165.8 L106.0,158.4 L106.5,163.9 L107.0,154.8 L107.5,158.9 L108.0,142.4 L108.4,153.5 L108.9,143.6 L109.3,152.7 L109.7,132.7 L110.1,140.7 L110.6,127.7 L111.0,134.4 L111.5,131.8 L112.0,143.4 L112.5,135.2 L113.0,150.3 L113.4,141.1 L113.8,154.2 L114.2,148.0 L114.7,156.0 L115.1,146.2 L115.5,156.5 L115.9,146.7 L116.4,154.5 L116.8,139.7 L117.2,149.2 L117.6,133.0 L118.1,138.6 L118.5,124.6 L118.9,136.4 L119.3,134.9 L119.8,143.1 L120.2,131.9 L120.6,148.8 L121.0,141.0 L121.4,152.3 L121.9,142.3 L122.3,154.5 L122.8,141.9 L123.2,151.8 L123.6,146.4 L124.1,153.6 L124.5,149.2 L124.9,157.1 L125.3,148.8 L125.8,165.9 L126.2,155.9 L126.6,162.9 L127.0,159.6 L127.5,166.5 L128.0,163.1 L128.5,173.6 L128.9,161.7 L129.3,167.9 L129.8,154.6 L130.2,161.0 L130.6,151.9 L131.0,165.2 L131.4,143.8 L131.9,154.2 L132.3,140.9 L132.7,148.2 L133.1,138.2 L133.6,143.1 L134.0,137.9 L134.4,147.6 L134.9,142.1 L135.3,155.3 L135.7,145.2 L136.1,157.2 L136.6,145.4 L137.0,161.4 L137.4,143.5 L137.8,151.4 L138.2,136.8 L138.7,146.1 L139.1,134.3 L139.5,138.6 L140.0,130.2 L140.5,146.8 L141.0,137.6 L141.5,158.9 L142.0,139.9 L142.5,145.7 L143.0,133.4 L143.5,135.6 L143.9,128.8 L144.3,138.7 L144.8,126.7 L145.2,134.9 L145.6,130.3 L146.0,137.9 L146.5,124.9 L147.0,133.1 L147.5,119.8 L148.0,128.8 L148.5,121.2 L149.0,129.8 L149.5,111.5 L150.0,118.5 L150.5,110.1 L151.0,124.2 L151.5,116.9 L152.0,133.5 L152.5,119.1 L153.0,136.6 L153.5,123.0 L154.0,137.3 L154.5,129.2 L155.0,144.7 L155.5,130.5 L156.0,151.3 L156.5,138.8 L157.0,156.0 L157.5,139.2 L157.9,153.9 L158.3,134.4 L158.8,152.6 L159.2,132.1 L159.6,149.8 L160.0,130.1 L160.4,147.0 L160.9,132.8 L161.3,142.1 L161.7,130.6 L162.2,145.8 L162.6,133.5 L163.0,140.4 L163.5,122.8 L163.9,139.5 L164.3,129.2 L164.8,143.6 L165.2,128.0 L165.7,137.5 L166.1,126.7 L166.5,135.5 L167.0,124.6 L167.4,137.8 L167.8,117.1 L168.3,126.7 L168.8,117.2 L169.2,120.9 L169.6,116.4 L170.1,123.8 L170.6,122.6 L171.0,127.6 L171.4,123.7 L171.9,131.8 L172.4,129.9 L172.8,139.0 L173.2,127.4 L173.7,131.4 L174.1,125.9 L174.5,127.6 L174.9,136.5 L175.4,153.0 L175.8,147.4 L176.3,154.4 L176.8,150.6 L177.2,153.6 L177.6,147.9 L178.1,151.4 L178.6,147.0 L179.0,152.9 L179.4,145.3 L179.9,150.7 L180.3,139.7 L180.8,148.2 L181.2,137.6 L181.6,141.3 L182.1,137.0 L182.5,139.1 L182.9,128.6 L183.4,135.4 L183.9,124.1 L184.3,132.0 L184.7,118.8 L185.2,129.4 L185.6,110.8 L186.0,117.6 L186.5,110.5 L187.0,114.1 L187.5,103.3 L188.0,111.1 L188.4,99.8 L188.8,110.4 L189.2,95.2 L189.7,112.0 L190.1,95.3 L190.5,101.8 L190.9,89.8 L191.3,102.1 L191.8,93.4 L192.2,99.6 L192.6,94.5 L193.0,97.6 L193.4,91.0 L193.8,98.0 L194.2,91.1 L194.7,97.3 L195.1,83.9 L195.5,91.6 L195.9,87.5 L196.3,90.4 L196.8,83.1 L197.2,94.1 L197.6,81.3 L198.1,86.5 L198.5,75.6 L198.9,81.4 L199.4,71.3 L199.9,76.4 L200.3,67.6 L200.7,73.1 L201.2,67.9 L201.6,79.3 L202.0,71.1 L202.5,85.3 L203.0,89.4 L203.4,98.0 L203.8,96.2 L204.3,111.1 L204.7,106.9 L205.1,118.5 L205.6,118.4 L206.1,132.9 L206.5,135.5 L206.9,149.6 L207.4,144.9 L207.8,153.0 L208.3,151.1 L208.8,160.7 L209.2,159.9 L209.6,165.7 L210.1,160.5 L210.5,171.6 L210.9,162.5 L211.4,170.8 L211.8,167.4 L212.2,172.2 L212.7,165.4 L213.2,170.3 L213.6,162.3 L214.1,168.2 L214.6,161.8 L215.0,170.2 L215.5,165.6 L216.0,172.8 L216.4,165.1 L216.9,171.6 L217.3,161.1 L217.7,172.3 L218.1,164.0 L218.6,171.1 L219.0,161.5 L219.4,167.0 L219.9,161.8 L220.3,164.1 L220.8,160.2 L221.2,161.2 L221.6,154.5 L222.1,161.6 L222.5,153.7 L223.0,163.7 L223.5,159.9 L224.0,173.7 L224.5,157.8 L225.0,172.5 L225.5,161.1 L226.0,172.0 L226.4,165.0 L226.9,171.8 L227.4,164.5 L227.8,172.8 L228.2,167.8 L228.7,170.2 L229.2,160.7 L229.6,164.7 L230.1,157.0 L230.5,156.3 L231.0,147.2 L231.4,151.2 L231.9,142.6 L232.3,149.5 L232.7,142.2 L233.2,150.5 L233.6,144.4 L234.0,156.3 L234.5,151.1 L235.0,159.5 L235.5,154.7 L236.0,166.1 L236.4,158.9 L236.8,170.8 L237.2,160.6 L237.7,173.5 L238.1,167.0 L238.5,171.8 L238.9,163.1 L239.4,166.3 L239.8,156.5 L240.2,160.8 L240.7,151.8 L241.1,151.4 L241.6,143.4 L242.0,143.3 L242.4,140.8 L242.9,148.4 L243.3,145.2 L243.8,156.1 L244.2,151.3 L244.7,164.2 L245.2,158.6 L245.6,167.1 L246.1,157.0 L246.5,160.2 L246.9,151.9 L247.4,155.3 L247.9,148.3 L248.3,149.0 L248.8,148.3 L249.2,152.9 L249.7,151.7 L250.1,159.1 L250.6,149.4 L251.0,159.8 L251.5,150.8 L252.0,160.6 L252.5,156.9 L253.0,161.2 L253.4,149.6 L253.8,159.1 L254.3,145.7 L254.7,156.9 L255.1,146.6 L255.5,152.4 L256.0,147.6 L256.4,156.8 L256.8,152.5 L257.3,160.0 L257.8,156.0 L258.2,169.6 L258.7,159.3 L259.1,167.3 L259.6,161.1 L260.0,168.0 L260.5,162.4 L260.9,169.4 L261.4,162.8 L261.8,173.0 L262.3,165.8 L262.7,173.5 L263.1,159.4 L263.5,167.6 L264.0,153.1 L264.4,159.1 L264.8,148.9 L265.3,152.9 L265.8,144.0 L266.2,150.2 L266.7,131.0 L267.1,145.0 L267.6,133.4 L268.0,149.4 L268.4,138.3 L268.9,151.4 L269.3,135.9 L269.7,151.1 L270.1,140.1 L270.6,153.8 L271.0,140.8 L271.4,151.9 L271.9,139.7 L272.3,150.4 L272.7,140.8 L273.1,147.0 L273.6,140.5 L274.0,144.3 L274.5,130.2 L275.0,138.6 L275.5,129.5 L276.0,133.5 L276.4,126.7 L276.9,131.1 L277.3,122.5 L277.7,126.1 L278.2,122.7 L278.6,123.8 L279.1,118.9 L279.5,122.4 L280.0,112.5 L280.4,117.9 L280.9,109.5 L281.3,113.4 L281.7,111.3 L282.1,116.8 L282.6,114.1 L283.0,120.7 L283.4,116.4 L283.9,120.9 L284.4,120.9 L284.8,124.1 L285.2,123.3 L285.7,126.0 L286.1,130.2 L286.6,139.6 L287.1,132.8 L287.5,138.1 L288.0,126.3 L288.4,129.8 L288.9,125.2 L289.3,127.6 L289.8,122.8 L290.2,122.8 L290.6,119.8 L291.1,120.7 L291.5,115.1 L292.0,116.9 L292.4,112.2 L292.9,116.7 L293.3,110.6 L293.8,114.9 L294.2,107.8 L294.6,110.9 L295.1,108.1 L295.6,110.1 L296.0,103.9 L296.5,108.0 L297.0,105.5 L297.5,106.9 L298.0,101.7 L298.5,106.7 L299.0,105.7 L299.5,108.9 L300.0,108.3 L300.4,114.6 L300.9,114.6 L301.3,122.0 L301.7,122.0 L302.1,128.4 L302.6,128.1 L303.1,134.8 L303.5,135.4 L303.9,147.1 L304.4,143.7 L304.9,156.1 L305.3,157.3 L305.7,164.1 L306.1,147.1 L306.6,152.8 L307.0,140.8 L307.4,151.3 L307.9,143.4 L308.4,156.7 L308.8,154.9 L309.2,161.9 L309.7,147.9 L310.1,164.9 L310.6,151.8 L311.1,164.6 L311.5,151.0 L311.9,153.4 L312.4,142.9 L312.9,144.4 L313.3,137.3 L313.8,134.0 L314.2,121.4 L314.6,125.1 L315.1,118.8 L315.5,122.1 L315.9,118.6 L316.4,120.5 L316.8,115.0 L317.2,118.5 L317.7,111.8 L318.1,112.3 L318.6,108.6 L319.1,109.0 L319.5,102.8 L320.0,100.8 L320.4,94.1 L320.9,89.9 L321.3,82.1 L321.8,77.2 L322.2,80.1 L322.6,84.6 L323.0,86.7 L323.4,91.7 L323.9,94.6 L324.4,100.1 L324.8,103.2 L325.2,115.0 L325.7,121.9 L326.1,135.1 L326.6,134.5 L327.1,148.1 L327.5,145.7 L327.9,153.2 L328.4,149.9 L328.9,154.8 L329.3,150.8 L329.8,159.4 L330.2,155.4 L330.6,160.2 L331.1,153.1 L331.5,157.6 L331.9,150.5 L332.4,155.1 L332.8,149.1 L333.3,152.5 L333.7,145.8 L334.1,149.5 L334.6,142.4 L335.1,147.8 L335.5,139.7 L336.0,148.3 L336.5,146.2 L337.0,151.9 L337.5,143.9 L338.0,151.1 L338.5,139.1 L339.0,143.1 L339.4,144.3 L339.9,149.3 L340.4,148.6 L340.8,156.7 L341.2,154.7 L341.7,164.4 L342.1,159.0 L342.6,166.3 L343.0,160.0 L343.5,166.9 L343.9,164.4 L344.3,169.5 L344.8,163.9 L345.2,169.7 L345.7,168.2 L346.1,172.7 L346.6,168.7 L347.0,169.2 L347.5,165.6 L347.9,168.5 L348.4,163.0 L348.8,168.8 L349.3,163.3 L349.8,164.6 L350.2,159.8 L350.7,163.7 L351.2,158.3 L351.7,160.2 L352.1,156.0 L352.6,157.3 L353.0,153.7 L353.5,154.5 L353.9,150.5 L354.4,151.7 L354.8,147.3 L355.2,148.1 L355.7,144.8 L356.1,145.9 L356.6,141.2 L357.0,144.0 L357.4,139.9 L357.9,140.2 L358.4,136.1 L358.8,138.3 L359.2,134.1 L359.7,136.2 L360.1,132.2 L360.6,132.5 L361.0,128.7 L361.5,131.8 L361.9,127.9 L362.4,128.4 L362.8,124.8 L363.3,126.3 L363.7,123.3 L364.2,124.0 L364.6,121.3 L365.0,126.0 L365.5,124.1 L365.9,128.7 L366.3,129.3 L366.8,133.5 L367.2,133.0 L367.6,136.7 L368.1,135.5 L368.5,140.1 L368.9,139.7 L369.4,146.7 L369.9,145.2 L370.3,150.7 L370.8,143.0 L371.2,140.9 L371.6,143.9 L372.1,150.2 L372.6,151.8 L373.0,161.1 L373.4,155.0 L373.9,157.8 L374.3,152.2 L374.7,153.4 L375.2,148.1 L375.6,150.1 L376.1,147.4 L376.5,152.2 L376.9,150.2 L377.4,154.2 L377.8,148.5 L378.3,150.2 L378.8,145.2 L379.2,145.9 L379.6,139.5 L380.1,142.0 L380.5,137.0 L381.0,137.6 L381.4,133.6 L381.9,132.6 L382.3,135.2 L382.8,141.1 L383.2,141.8 L383.6,149.1 L384.1,144.1 L384.5,146.1 L384.9,140.8 L385.4,142.1 L385.9,139.1 L386.3,141.0 L386.8,136.4 L387.2,138.3 L387.6,134.6 L388.1,136.2 L388.5,132.1 L388.9,132.9 L389.4,128.2 L389.8,130.7 L390.3,127.2 L390.7,129.4 L391.1,123.8 L391.6,123.6 L392.1,119.2 L392.5,120.1 L392.9,114.1 L393.4,114.3 L393.8,114.7 L394.3,119.9 L394.8,120.4 L395.2,126.4 L395.6,126.1 L396.0,132.0 L396.4,131.7 L396.9,139.0 L397.4,139.0 L397.8,144.8 L398.2,140.3 L398.7,139.2 L399.1,134.0 L399.6,134.8 L400.1,128.9 L400.5,129.7 L400.9,126.7 L401.4,125.8 L401.9,120.9 L402.3,120.7 L402.7,117.9 L403.1,117.2 L403.6,114.0 L404.0,113.2 L404.4,111.5 L404.9,110.6 L405.4,108.7 L405.8,108.2 L406.2,105.9 L406.7,106.0 L407.2,103.5 L407.6,103.4 L408.1,101.5 L408.5,101.7 L409.0,99.7 L409.4,99.8 L409.9,98.4 L410.3,98.3 L410.7,97.3 L411.2,97.5 L411.6,96.5 L412.1,96.6 L412.5,95.7 L412.9,95.9 L413.4,94.6 L413.8,94.8 L414.2,89.6 L414.7,85.5 L415.2,80.0 L415.6,76.7 L416.1,72.9 L416.5,71.4 L417.0,67.5 L417.4,68.8 L417.8,68.6 L418.2,70.0 L418.7,69.4 L419.1,70.5 L419.5,70.2 L420.0,79.2 L420.4,86.7 L420.9,96.3 L421.3,101.2 L421.8,109.6 L422.2,114.9 L422.7,122.2 L423.1,125.8 L423.6,130.9 L424.1,133.6 L424.5,138.1 L424.9,142.2 L425.4,148.8 L425.9,150.3 L426.3,156.9 L426.8,159.5 L427.2,166.4 L427.6,163.0 L428.1,166.6 L428.6,162.1 L429.0,164.6 L429.4,160.1 L429.9,163.9 L430.3,159.2 L430.8,161.5 L431.2,158.1 L431.6,160.9 L432.1,158.9 L432.5,161.5 L432.9,157.1 L433.4,159.3 L433.8,155.4 L434.2,156.1 L434.7,152.3 L435.1,155.9 L435.6,151.8 L436.0,152.5 L436.4,150.7 L436.9,154.6 L437.4,151.9 L437.8,155.6 L438.2,152.6 L438.7,154.5 L439.2,153.3 L439.6,155.7 L440.0,153.9 L440.5,156.9 L440.9,154.4 L441.4,157.8 L441.8,157.1 L442.2,160.1 L442.7,157.1 L443.1,160.6 L443.6,158.3 L444.0,161.8 L444.5,160.9 L444.9,163.3 L445.4,160.7 L445.8,164.3 L446.3,160.8 L446.7,165.0 L447.2,161.2 L447.6,164.5 L448.1,162.7 L448.5,165.4 L449.0,163.1 L449.5,163.2 L449.9,161.4 L450.4,163.3 L450.8,159.2 L451.3,159.6 L451.7,157.5 L452.2,158.2 L452.6,155.3 L453.1,156.8 L453.6,152.8 L454.0,154.4 L454.5,150.9 L454.9,153.2 L455.4,149.2 L455.8,149.0 L456.2,146.0 L456.7,150.4 L457.1,147.3 L457.5,149.0 L458.0,147.0 L458.4,149.5 L458.8,146.9 L459.3,149.6 L459.8,146.7 L460.2,147.9 L460.6,146.4 L461.1,148.2 L461.6,145.4 L462.0,147.7 L462.4,144.3 L462.9,144.0 L463.4,139.6 L463.8,140.9 L464.2,136.9 L464.7,138.6 L465.1,135.6 L465.5,135.2 L466.0,131.2 L466.4,134.8 L466.8,134.0 L467.3,139.5 L467.8,138.0 L468.2,143.9 L468.6,144.0 L469.1,149.1 L469.6,150.6 L470.0,155.0 L470.4,151.1 L470.9,152.5 L471.3,146.6 L471.7,148.2 L472.2,144.2 L472.6,144.9 L473.1,138.7 L473.5,141.6 L474.0,134.8 L474.4,135.7 L474.9,131.6 L475.3,132.8 L475.8,126.9 L476.2,128.5 L476.7,123.8 L477.1,123.9 L477.5,125.3 L478.0,128.6 L478.4,130.1 L478.8,134.3 L479.3,134.7 L479.7,139.6 L480.1,134.8 L480.6,133.3 L481.1,128.2 L481.5,128.4 L481.9,124.1 L482.4,123.7 L482.9,119.0 L483.3,118.9 L483.8,120.9 L484.2,126.6 L484.6,127.9 L485.1,132.2 L485.5,134.5 L486.0,139.4 L486.4,140.4 L486.9,145.6 L487.3,143.8 L487.8,146.0 L488.2,141.6 L488.6,144.5 L489.1,140.0 L489.5,143.2 L489.9,139.8 L490.4,143.5 L490.9,141.0 L491.3,145.9 L491.8,142.0 L492.2,145.6 L492.6,143.5 L493.1,144.0 L493.5,142.6 L493.9,143.9 L494.4,139.6 L494.8,142.7 L495.2,136.1 L495.7,133.0 L496.2,126.4 L496.6,122.2 L497.1,120.3 L497.5,119.9 L497.9,117.3 L498.4,117.3 L498.9,114.9 L499.3,114.5 L499.8,112.1 L500.2,111.7 L500.6,110.5 L501.1,111.1 L501.5,109.6 L502.0,110.3 L502.4,108.6 L502.8,109.0 L503.3,106.8 L503.7,107.7 L504.2,106.3 L504.6,106.9 L505.0,104.7 L505.5,104.7 L505.9,102.8 L506.4,102.1 L506.8,100.1 L507.2,100.3 L507.7,98.3 L508.1,98.0 L508.6,96.2 L509.0,95.6 L509.4,94.0 L509.9,93.2 L510.4,91.3 L510.8,90.7 L511.2,89.0 L511.7,88.2 L512.1,86.0 L512.6,86.3 L513.0,84.0 L513.5,83.7 L513.9,80.8 L514.3,79.5 L514.7,76.3 L515.3,83.6 L515.7,83.0 L516.2,84.9 L516.6,85.0 L517.0,87.0 L517.5,86.2 L517.9,88.0 L518.4,87.9 L518.8,90.0 L519.2,87.9 L519.7,88.6 L520.1,87.1 L520.6,86.9 L521.0,85.0 L521.5,86.2 L521.9,84.2 L522.4,84.3 L522.8,84.7 L523.3,87.5 L523.7,87.4 L524.1,89.7 L524.6,90.0 L525.0,92.8 L525.5,92.2 L525.9,93.5 L526.4,93.4 L526.8,94.6 L527.2,94.6 L527.7,95.5" fill="none" stroke="#262626" stroke-width="1.1" stroke-linejoin="round"/><rect x="432" y="35" width="84" height="40" fill="#fff"/><line x1="436" y1="42.6" x2="456" y2="42.6" stroke="#80b4e6" stroke-width="1.3"/><text x="459" y="46.0" font-family="Liberation Sans, sans-serif" font-size="9.7" textLength="46" lengthAdjust="spacingAndGlyphs" fill="#302838">CH4 ppbv</text><line x1="436" y1="55.5" x2="456" y2="55.5" stroke="#d8707c" stroke-width="1.3"/><text x="459" y="58.9" font-family="Liberation Sans, sans-serif" font-size="9.7" textLength="49" lengthAdjust="spacingAndGlyphs" fill="#302838">CO2 ppmv</text><line x1="436" y1="68.6" x2="456" y2="68.6" stroke="#4a4a4a" stroke-width="1.3"/><text x="459" y="72.0" font-family="Liberation Sans, sans-serif" font-size="9.7" textLength="51" lengthAdjust="spacingAndGlyphs" fill="#302838">Delta temp</text><path d="M349.9,109.1 L361.2,109.1 L355.55,99.6 Z" fill="none" stroke="#222" stroke-width="1.1" stroke-linejoin="miter"/><text x="362.5" y="109.6" font-family="Liberation Sans, sans-serif" font-size="14.8" textLength="9" lengthAdjust="spacingAndGlyphs" fill="#111">T</text><text x="243.6" y="233.7" font-family="Liberation Sans, sans-serif" font-size="14.4" textLength="29.4" lengthAdjust="spacingAndGlyphs" fill="#111">CH4</text><text x="219.6" y="286" font-family="Liberation Sans, sans-serif" font-size="15" textLength="29.6" lengthAdjust="spacingAndGlyphs" fill="#111">CO2</text></svg></body></html>
